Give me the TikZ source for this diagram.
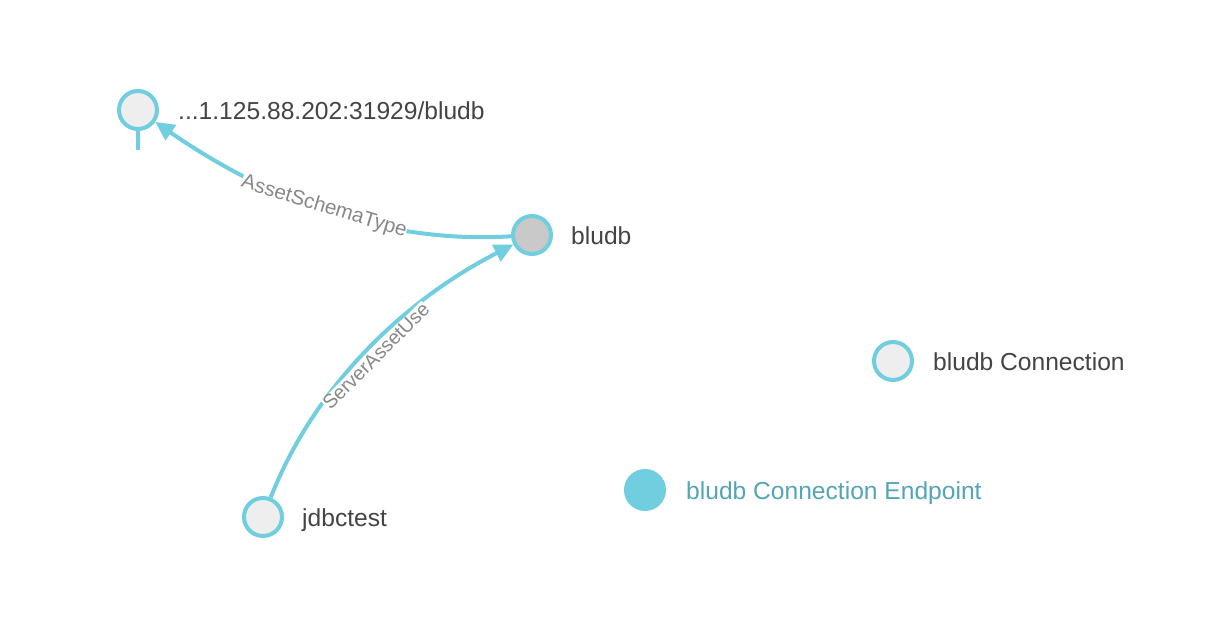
\documentclass[tikz,border=0pt]{standalone}
\usepackage{fontspec}
\setmainfont{Liberation Sans}
\usetikzlibrary{arrows.meta}
\definecolor{edgeblue}{HTML}{70CEDE}
\definecolor{lightfill}{HTML}{EEEEEE}
\definecolor{midfill}{HTML}{C9C9C9}
\definecolor{darktext}{HTML}{444444}
\definecolor{tealtext}{HTML}{54A5B5}
\definecolor{edgetext}{HTML}{888888}
\tikzset{
  entity/.style={circle,draw=edgeblue,line width=4pt,fill=lightfill,minimum size=38pt,inner sep=0pt},
  central/.style={entity,fill=midfill},
  solidnode/.style={entity,fill=edgeblue},
  namelabel/.style={anchor=base west,text=darktext,font=\fontsize{24.6}{28}\selectfont,inner sep=0pt},
  link/.style={draw=edgeblue,line width=4pt,-{Triangle[length=19pt,width=18pt]}},
  linklabel/.style={text=edgetext,fill=white,inner sep=0.1pt,font=\fontsize{20.6}{24}\selectfont}
}
\begin{document}
\begin{tikzpicture}[x=1pt,y=-1pt]
\useasboundingbox (0,0) rectangle (1226,644);
\fill[white] (0,0) rectangle (1226,644);
\node[entity] (a) at (138,110) {};
\node[central] (b) at (532,235) {};
\node[entity] (c) at (263,517) {};
\node[entity] (d) at (893,361) {};
\node[solidnode] (e) at (645,490) {};
\node[namelabel] (la) at (178,120) {...1.125.88.202:31929/bludb};
\node[namelabel] (lb) at (571,245) {bludb};
\node[namelabel] (lc) at (302,526.5) {jdbctest};
\node[namelabel] (ld) at (933,370) {bludb Connection};
\node[namelabel,text=tealtext] (le) at (686,499.5) {bludb Connection Endpoint};
\coordinate (stub) at (138,150);
\draw[edgeblue,line width=4pt] (a) -- (stub);
\draw[link] (b) .. controls (420,242) and (300,222) .. (a);
\draw[link] (c) .. controls (315,385) and (405,300) .. (b);
\node[linklabel,rotate=-17] (l1) at (324,207) {AssetSchemaType};
\node[linklabel,rotate=45,font=\fontsize{19.6}{24}\selectfont] (l2) at (376,356) {ServerAssetUse};
\end{tikzpicture}
\end{document}
